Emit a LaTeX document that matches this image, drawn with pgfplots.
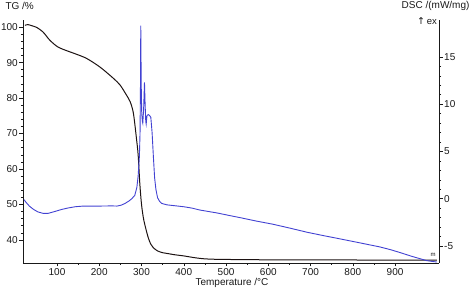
\documentclass[border=0pt]{standalone}
\usepackage{fontspec}
\setmainfont{Liberation Sans}
\newfontfamily\symfont{DejaVu Sans}
\usepackage{pgfplots}
\pgfplotsset{compat=1.18}
\definecolor{dscblue}{RGB}{66,66,210}
\definecolor{tgblack}{RGB}{28,18,18}
\definecolor{txt}{RGB}{25,25,25}
\begin{document}
\begin{tikzpicture}
\useasboundingbox (-23pt,-28pt) rectangle (451pt,263pt);
\pgfplotsset{
  common/.style={
    at={(0,0)}, anchor=south west, scale only axis, width=416pt, height=243pt,
    xmin=19.5, xmax=1004,
    tick align=outside, major tick length=3.5pt, minor tick length=2pt,
    tick label style={font=\fontsize{10}{11}\selectfont, text=txt},
    xticklabel style={inner sep=1.5pt},
    yticklabel style={inner sep=1.5pt},
    /pgf/number format/assume math mode=true,
    axis line style={-, line width=0.7pt, txt},
    every tick/.style={txt, line width=0.55pt},
    clip=false,
  }
}
\begin{axis}[common,
  ymin=33.5, ymax=102,
  axis x line*=bottom, axis y line*=left,
  xtick={100,200,...,900}, ytick={40,50,...,100},
  minor x tick num=1, minor y tick num=4,
]
\addplot[tgblack, line width=1pt, smooth] coordinates {
(24,100.5) (31,100.7) (40,100.4) (52,99.9) (67,98.6) (83,96.3) (102,94.4) (124,93.3)
(147,92.3) (171,91.1) (202,88.7) (233,85.6) (249,83.7) (262,81.3) (273,79) (280,76.2)
(284,72.8) (288,68.6) (292,64) (296,55.8) (300,50) (304,46.5) (308,44.2) (316,40.6)
(322,38.8) (328,37.8) (338,36.9) (350,36.4) (360,36.2) (380,35.8) (400,35.5) (420,35.1)
(438,34.8) (460,34.6) (500,34.5) (600,34.4) (700,34.4) (800,34.35) (900,34.3) (999,34.3)
};
\end{axis}
\begin{axis}[common,
  ymin=-6.8, ymax=18.9,
  axis x line=none, axis y line*=right,
  ytick={-5,0,5,10,15}, minor y tick num=4,
]
\addplot[dscblue, line width=0.9pt] coordinates {
(22,-0.1) (26,-0.35) (35,-0.8) (45,-1.15) (55,-1.4) (67,-1.55) (79,-1.55) (95,-1.35)
(110,-1.15) (124,-1.0) (143,-0.85) (162,-0.78) (202,-0.78) (230,-0.76) (242,-0.78)
(252,-0.68) (261,-0.5) (270,-0.25) (277,0.0) (284,0.35) (289,1.2) (292,2.4) (295,4.5)
(296.5,7) (297.5,12) (298.2,18.3) (299.3,12) (300.5,9) (302,8.2) (303,8.0) (305,9.5)
(307,12.3) (308.5,10) (310,8.2) (311,7.9) (313,8.8) (316,8.9) (319,8.8) (322,8.6)
(325,7) (328,4.5) (331,2.2) (334,1.0) (338,0.1) (343,-0.3) (348,-0.5) (360,-0.65)
(380,-0.75) (400,-0.85) (420,-1.0) (438,-1.2)
(458,-1.35) (478,-1.5) (505,-1.75) (533,-2.0) (570,-2.35) (611,-2.7) (650,-3.1)
(692,-3.55) (730,-3.9) (770,-4.25) (820,-4.7) (864,-5.1) (890,-5.4) (912,-5.7)
(940,-6.1) (975,-6.55) (999,-6.7)
};
\end{axis}
\node[anchor=west, font=\fontsize{10}{11}\selectfont, text=txt] at (-21pt,257pt) {TG /\%};
\node[anchor=east, font=\fontsize{10}{11}\selectfont, text=txt] at (450pt,257pt) {DSC /(mW/mg)};
\node[anchor=east, font=\fontsize{9.5}{10}\selectfont, text=txt, inner sep=1pt] at (415pt,242pt) {{\symfont\char"2191}\,ex};
\node[font=\fontsize{10}{11}\selectfont, text=txt] at (209pt,-20pt) {Temperature /°C};
\node[font=\fontsize{6}{6}\selectfont, text=txt, inner sep=0pt] at (410pt,8pt) {m};
\end{tikzpicture}
\end{document}
